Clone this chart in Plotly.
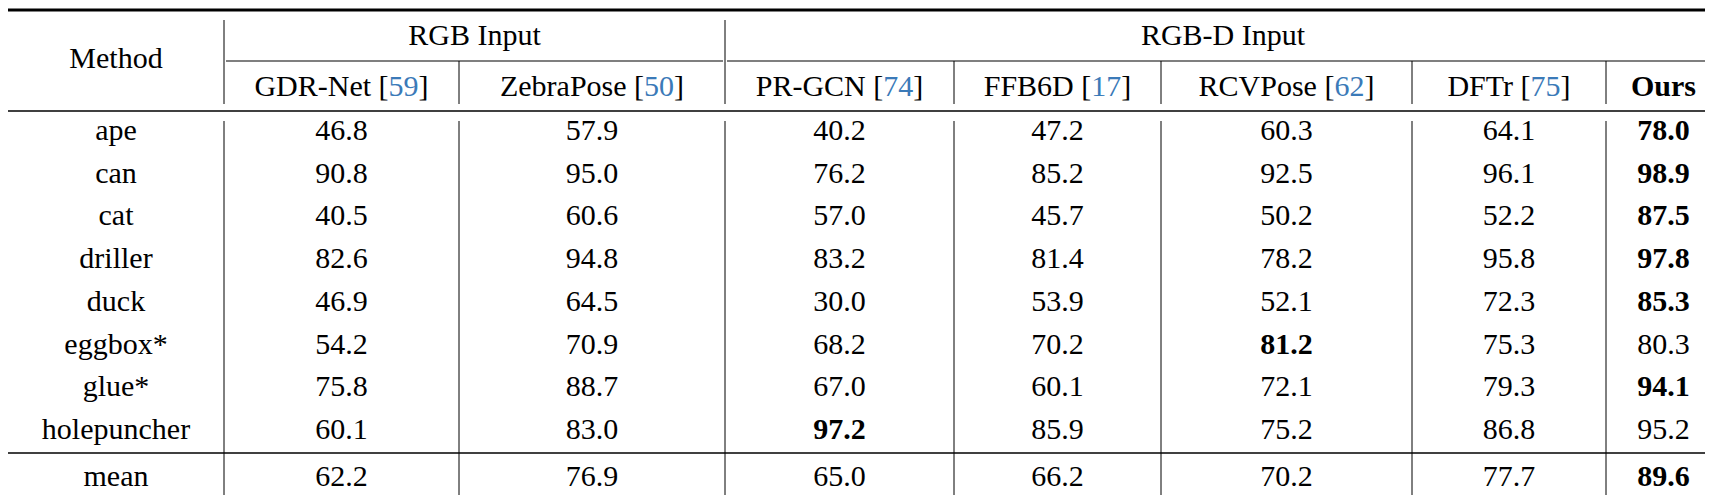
import plotly.graph_objects as go

# table data
methods = ["ape", "can", "cat", "driller", "duck", "eggbox*", "glue*", "holepuncher", "mean"]
col_names = ["GDR-Net", "ZebraPose", "PR-GCN", "FFB6D", "RCVPose", "DFTr", "Ours"]
col_refs = ["59", "50", "74", "17", "62", "75", None]
gdrnet = [46.8, 90.8, 40.5, 82.6, 46.9, 54.2, 75.8, 60.1, 62.2]
zebrapose = [57.9, 95.0, 60.6, 94.8, 64.5, 70.9, 88.7, 83.0, 76.9]
prgcn = [40.2, 76.2, 57.0, 83.2, 30.0, 68.2, 67.0, 97.2, 65.0]
ffb6d = [47.2, 85.2, 45.7, 81.4, 53.9, 70.2, 60.1, 85.9, 66.2]
rcvpose = [60.3, 92.5, 50.2, 78.2, 52.1, 81.2, 72.1, 75.2, 70.2]
dftr = [64.1, 96.1, 52.2, 95.8, 72.3, 75.3, 79.3, 86.8, 77.7]
ours = [78.0, 98.9, 87.5, 97.8, 85.3, 80.3, 94.1, 95.2, 89.6]
columns = [gdrnet, zebrapose, prgcn, ffb6d, rcvpose, dftr, ours]

W, H = 1713, 498
FONT = dict(family="'Liberation Serif', 'Times New Roman', 'DejaVu Serif', serif", size=30, color="black")
REF_COLOR = "#3b7ab8"

# layout geometry (pixels)
xb = [0, 216, 451, 717, 946, 1153, 1404, 1598, 1713]
y_top, y_mid, y_head, y_mean, y_bot = 2, 53, 103, 445, 495
row_h = (y_mean - y_head) / 8
row_y = [y_head + row_h * (i + 0.5) for i in range(8)] + [(y_mean + y_bot) / 2]
centers = [(xb[i] + xb[i + 1]) / 2 for i in range(len(xb) - 1)]

fig = go.Figure()

# method column
fig.add_trace(go.Scatter(x=[centers[0]] * len(methods), y=row_y, text=methods,
                         mode="text", textfont=FONT, hoverinfo="skip"))

# value columns, best value per row in bold
for r in range(len(methods)):
    vals = [c[r] for c in columns]
    best = max(vals)
    texts = [f"<b>{v:.1f}</b>" if v == best else f"{v:.1f}" for v in vals]
    fig.add_trace(go.Scatter(x=centers[1:], y=[row_y[r]] * len(vals), text=texts,
                             mode="text", textfont=FONT, hoverinfo="skip"))

# header texts
head = []
for name, ref in zip(col_names, col_refs):
    if ref is None:
        head.append(f"<b>{name}</b>")
    else:
        head.append(f"{name} [<span style='color:{REF_COLOR}'>{ref}</span>]")
sub_y = (y_mid + y_head) / 2 + 2
fig.add_trace(go.Scatter(x=centers[1:], y=[sub_y] * len(head), text=head,
                         mode="text", textfont=FONT, hoverinfo="skip"))
fig.add_trace(go.Scatter(
    x=[centers[0], (xb[1] + xb[3]) / 2, (xb[3] + xb[8]) / 2],
    y=[(y_top + y_head) / 2, (y_top + y_mid) / 2 + 2, (y_top + y_mid) / 2 + 2],
    text=["Method", "RGB Input", "RGB-D Input"],
    mode="text", textfont=FONT, hoverinfo="skip"))

# rules
def hline(y, x0, x1, w):
    fig.add_shape(type="line", x0=x0, x1=x1, y0=y, y1=y, line=dict(color="black", width=w))

def vline(x, y0, y1):
    fig.add_shape(type="line", x0=x, x1=x, y0=y0, y1=y1, line=dict(color="black", width=1))

hline(y_top, 0, W, 3)
hline(y_mid, xb[1] + 2, xb[3] - 2, 1.2)
hline(y_mid, xb[3] + 2, W, 1.2)
hline(y_head, 0, W, 1.5)
hline(y_mean, 0, W, 1.5)
hline(y_bot, 0, W, 3)
for x in (xb[1], xb[3]):
    vline(x, 12, 96)
for x in (xb[2], xb[4], xb[5], xb[6], xb[7]):
    vline(x, y_mid, 96)
for x in xb[1:-1]:
    vline(x, 113, 487)

fig.update_layout(
    width=W, height=H, margin=dict(l=0, r=0, t=0, b=0),
    plot_bgcolor="white", paper_bgcolor="white", showlegend=False,
    xaxis=dict(range=[0, W], visible=False, fixedrange=True),
    yaxis=dict(range=[H, 0], visible=False, fixedrange=True),
)
fig.write_html("out.html")
